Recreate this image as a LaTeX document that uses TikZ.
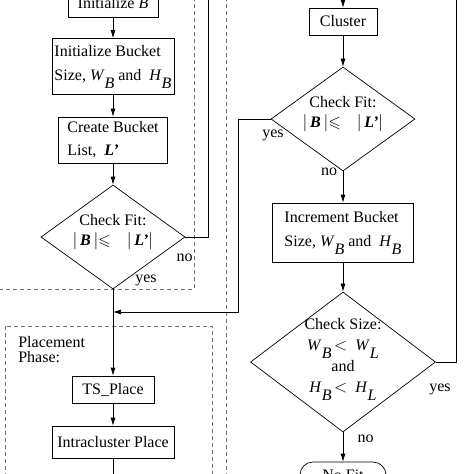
\documentclass[tikz,border=0pt]{standalone}
\usepackage{amssymb}
\usepackage{fontspec}
\setmainfont{Liberation Serif}
\usetikzlibrary{shapes.geometric,arrows.meta}

\newcommand{\lowsub}[2]{\textit{#1}\raisebox{-0.5em}{\textit{#2}}}
\newcommand{\fitrel}{$|$\,\textbf{\textit{B}}\,$|{\leqslant}$\quad$|$\,\textbf{\textit{L’}}$|$}

\begin{document}
\begin{tikzpicture}[x=1pt,y=-1pt,->,>={Latex[length=8pt,width=5pt]},line width=0.7pt,
  every node/.style={font=\fontsize{16}{20}\selectfont}]
\tikzstyle{block}=[draw,rectangle,inner sep=0pt,minimum height=28pt]
\tikzstyle{twoline}=[block,align=left,minimum height=56pt,font=\fontsize{16}{24}\selectfont]
\tikzstyle{check}=[draw,diamond,inner sep=0pt,minimum width=144pt,minimum height=104pt]
\tikzstyle{terminal}=[draw,rectangle,rounded corners=13pt,minimum width=86pt,minimum height=26pt]
\tikzstyle{phase}=[-,draw=black!55,line width=0.6pt,dash pattern=on 4pt off 3pt]
\tikzstyle{annot}=[inner sep=0pt]

\useasboundingbox (0,0) rectangle (474,474);
\clip (0,0) rectangle (474,474);

% Dashed phase frames
\draw[phase] (-10,-10) rectangle (194,289);
\draw[phase] (226,-10) rectangle (500,500);
\draw[phase] (5,326) rectangle (212,500);
\node[annot,anchor=north west,align=left,font=\fontsize{16}{15}\selectfont] (phaselbl) at (18,336) {Placement\\Phase:};

% Left column
\node[block,minimum width=90pt] (initB) at (113,3) {Initialize \textit{B}};
\node[twoline,minimum width=122pt] (initSize) at (113,66.5) {Initialize Bucket\\Size, \lowsub{W}{B} and\enspace\lowsub{H}{B}};
\node[twoline,minimum width=109pt,minimum height=46pt,font=\fontsize{16}{23}\selectfont] (list) at (113,140) {Create Bucket\\List,\enspace\textbf{\textit{L’}}};
\node[check,label={[align=center,yshift=5pt]center:{Check Fit:\\\fitrel}}] (fit1) at (113,237) {};
\node[block,minimum width=82pt,minimum height=27pt] (tsplace) at (113,389.5) {TS\_Place};
\node[block,minimum width=122pt,minimum height=32pt] (intra) at (113,442) {Intracluster Place};

% Right column
\node[block,minimum width=68pt,minimum height=27pt] (cluster) at (343,21.5) {Cluster};
\node[check,label={[align=center,yshift=5pt]center:{Check Fit:\\\fitrel}}] (fit2) at (343,119) {};
\node[twoline,minimum width=141pt,minimum height=59pt] (incr) at (343,232.5) {Increment Bucket\\Size, \lowsub{W}{B} and\enspace\lowsub{H}{B}};
\node[check,minimum width=185pt,minimum height=140pt,
  label={[align=center,yshift=3pt,font=\fontsize{16}{21}\selectfont]center:{Check Size:\\\lowsub{W}{B}\,$<$\enspace\lowsub{W}{L}\\and\\\lowsub{H}{B}\,$<$\enspace\lowsub{H}{L}}}] (fit3) at (343,362) {};
\node[terminal] (nofit) at (343,475) {No Fit};

% Free ends of connectors
\coordinate (topL) at (208,-15);
\coordinate (topR) at (456,-15);
\coordinate (inC) at (343,-15);
\coordinate (join) at (113,312);
\coordinate (outP) at (113,490);

% Connectors
\draw (initB) -- (initSize);
\draw (initSize) -- (list);
\draw (list) -- (fit1);
\draw (fit1) -- (tsplace);
\draw (tsplace) -- (intra);
\draw (intra) -- (outP);
\draw[-] (fit1.east) -| (topL);
\draw (inC) -- (cluster);
\draw (cluster) -- (fit2);
\draw (fit2) -- (incr);
\draw (incr) -- (fit3);
\draw (fit3) -- (nofit);
\draw[-] (fit3.east) -| (topR);
\draw (fit2.west) -- ++(-32,0) |- (join);

% Branch labels
\node[annot] (no1) at (184.5,258) {no};
\node[annot] (yes1) at (146,280) {yes};
\node[annot] (yes2) at (273,135) {yes};
\node[annot] (no2) at (329,172) {no};
\node[annot] (yes3) at (440,389) {yes};
\node[annot] (no3) at (365.5,439) {no};
\end{tikzpicture}
\end{document}
